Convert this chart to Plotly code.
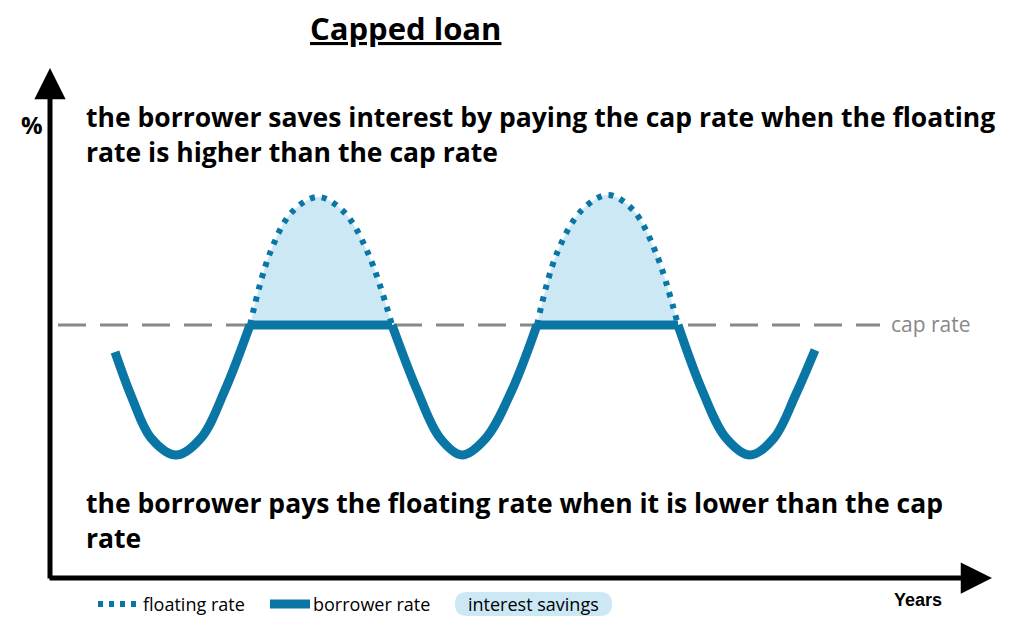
import plotly.graph_objects as go

# ---- data (x = years units, y = % units) ----
cap_rate = 25.3
cap_x = [0.8, 83.0]
borrow_curves = [
    ([6.5, 8.2, 10.1, 12.6, 15.1, 17.5, 20.0], [22.6, 18.0, 14.0, 12.3, 14.0, 18.8, 25.3]),
    ([34.2, 36.7, 39.0, 41.2, 43.6, 46.2, 48.7], [25.3, 18.8, 14.0, 12.3, 14.0, 18.8, 25.3]),
    ([62.8, 65.2, 67.6, 70.0, 72.4, 74.6, 76.5], [25.3, 18.8, 14.0, 12.3, 14.0, 18.4, 22.8]),
]
borrow_flats = [([20.0, 34.2], [25.3, 25.3]), ([48.7, 62.8], [25.3, 25.3])]
float_peaks = [
    ([20.0, 22.0, 24.2, 26.8, 29.4, 31.8, 34.2], [25.3, 32.5, 36.6, 38.1, 36.6, 32.5, 25.3]),
    ([48.7, 50.7, 53.2, 55.8, 58.3, 60.6, 62.8], [25.3, 32.5, 36.8, 38.3, 36.8, 32.5, 25.3]),
]

BLUE = "#0a76a5"
LIGHT = "#cce8f4"
fig = go.Figure()
for xs, ys in float_peaks:
    fig.add_trace(go.Scatter(x=xs, y=ys, mode="lines", line=dict(shape="spline", width=0),
                             fill="toself", fillcolor=LIGHT, hoverinfo="skip"))
fig.add_trace(go.Scatter(x=cap_x, y=[cap_rate, cap_rate], mode="lines",
                         line=dict(color="#888888", width=3, dash="28px,14px")))
for xs, ys in float_peaks:
    fig.add_trace(go.Scatter(x=xs, y=ys, mode="lines",
                             line=dict(shape="spline", color=BLUE, width=6, dash="5px,7px")))
for xs, ys in borrow_curves:
    fig.add_trace(go.Scatter(x=xs, y=ys, mode="lines",
                             line=dict(shape="spline", color=BLUE, width=9)))
for xs, ys in borrow_flats:
    fig.add_trace(go.Scatter(x=xs, y=ys, mode="lines", line=dict(color=BLUE, width=9)))

W, H = 1016, 620
L, R, T, B = 32, 24, 52, 40
def px(x): return (x - 8 - L) / (W - L - R)
def py(y): return (H - B - (y - 8)) / (H - T - B)

FONT = "Open Sans"
ann = []
def txt(x, y, s, size, color="black", xa="left", bold=True, fam=FONT):
    ann.append(dict(xref="paper", yref="paper", x=px(x), y=py(y), text=f"<b>{s}</b>" if bold else s,
                    showarrow=False, xanchor=xa, yanchor="middle",
                    font=dict(size=size, color=color, family=fam)))
txt(405, 28, "<u>Capped loan</u>", 31, xa="center")
txt(32, 125, "%", 24, xa="center")
txt(84, 117, "the borrower saves interest by paying the cap rate when the floating", 26.5)
txt(84, 152, "rate is higher than the cap rate", 26.5)
txt(84, 503, "the borrower pays the floating rate when it is lower than the cap", 26.5)
txt(84, 538, "rate", 26.5)
txt(889, 324, "cap rate", 21, color="#888888", bold=False)
txt(918, 600, "Years", 18, xa="center", fam="Liberation Sans")
txt(141, 604, "floating rate", 18, bold=False)
txt(311, 604, "borrower rate", 18, bold=False)
txt(533, 604, "interest savings", 18, xa="center", bold=False)
ann.append(dict(xref="paper", yref="paper", x=px(50), y=py(68), ax=0, ay=512, showarrow=True,
                arrowhead=2, arrowsize=1.25, arrowwidth=5, arrowcolor="black", text=""))
ann.append(dict(xref="paper", yref="paper", x=px(992), y=py(578), ax=-944, ay=0, showarrow=True,
                arrowhead=2, arrowsize=1.25, arrowwidth=5, arrowcolor="black", text=""))

shapes = [
    dict(type="line", xref="paper", yref="paper", x0=px(98), x1=px(140), y0=py(604), y1=py(604),
         line=dict(color=BLUE, width=6, dash="5px,6px")),
    dict(type="line", xref="paper", yref="paper", x0=px(270), x1=px(310), y0=py(604), y1=py(604),
         line=dict(color=BLUE, width=9)),
    dict(type="path", xref="paper", yref="paper", fillcolor=LIGHT, line=dict(width=0),
         path=f"M {px(467)},{py(592)} L {px(600)},{py(592)} Q {px(612)},{py(592)} {px(612)},{py(604)} "
              f"Q {px(612)},{py(616)} {px(600)},{py(616)} L {px(467)},{py(616)} "
              f"Q {px(455)},{py(616)} {px(455)},{py(604)} Q {px(455)},{py(592)} {px(467)},{py(592)} Z"),
]

fig.update_layout(width=W, height=H, margin=dict(l=L, r=R, t=T, b=B),
                  paper_bgcolor="white", plot_bgcolor="white", showlegend=False,
                  xaxis=dict(range=[-1, 95], visible=False, fixedrange=True),
                  yaxis=dict(range=[-1, 51.8], visible=False, fixedrange=True),
                  annotations=ann, shapes=shapes)
fig.write_html("out.html")
